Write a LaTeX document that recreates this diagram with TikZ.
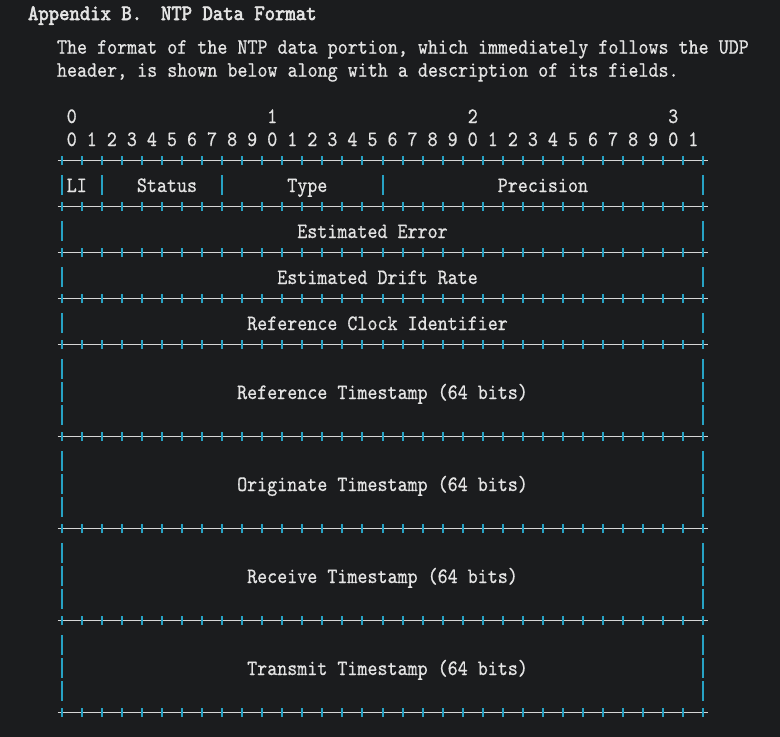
\documentclass[tikz,border=0pt]{standalone}
\usepackage{fontspec}
\newfontfamily\mono{lmmono10-regular}[Extension=.otf, FakeStretch=0.87, FakeBold=0.6]
\newfontfamily\monobold{lmmono10-regular}[Extension=.otf, FakeStretch=0.9, FakeBold=2.6]
\definecolor{bg}{HTML}{1B1C1E}
\definecolor{fg}{HTML}{E4E4E4}
\definecolor{cy}{HTML}{27A2C4}
\definecolor{dash}{HTML}{D6D6D6}
\begin{document}
\begin{tikzpicture}[x=1pt,y=-1pt,
  txt/.style={anchor=base west, inner sep=0pt, outer sep=0pt, text=fg, font=\mono\fontsize{21.95}{23}\selectfont},
  ttl/.style={txt, font=\monobold\fontsize{21.95}{23}\selectfont},
  hline/.style={draw=dash, line width=1pt},
  vbar/.style={draw=cy, line width=2pt}]
\useasboundingbox (0,0) rectangle (780,737);
\fill[bg] (0,0) rectangle (780,737);

% title and paragraph
\node[ttl] (t1) at (28,20) {Appendix B.};
\node[ttl] (t2) at (161,20) {NTP Data Format};
\node[txt] (p1) at (57,53.7) {The format of the NTP data portion, which immediately follows the UDP};
\node[txt] (p2) at (57,76.7) {header, is shown below along with a description of its fields.};

% bit numbers
\foreach \t in {0,1,2,3} {
  \node[txt] (ten\t) at ({61.7+10.025*(1+20*\t)-5},123) {\t};
}
\foreach \i in {0,...,31} {
  \pgfmathtruncatemacro\d{mod(\i,10)}
  \node[txt] (bit\i) at ({61.7+10.025*(1+2*\i)-5},146) {\d};
}

% horizontal separators with plus signs
\foreach \k in {0,2,4,6,8,12,16,20,24} {
  \draw[hline] (57.5,{160.7+23*\k}) -- (707.5,{160.7+23*\k});
  \foreach \c in {0,...,32} {
    \draw[vbar] ({61.7+20.05*\c},{160.7+23*\k-4.3}) -- ++(0,8.8);
  }
}

% pipes
\foreach \k/\cols in {1/{0,4,16,32,64},3/{0,64},5/{0,64},7/{0,64},
   9/{0,64},10/{0,64},11/{0,64},13/{0,64},14/{0,64},15/{0,64},
   17/{0,64},18/{0,64},19/{0,64},21/{0,64},22/{0,64},23/{0,64}} {
  \foreach \c in \cols {
    \draw[vbar] ({61.7+10.025*\c},{160.7+23*\k-8.7}) -- ++(0,20);
  }
}

% field labels: (column, row)
\newcommand\fieldlabel[4]{\node[txt] (#1) at ({61.7+10.025*#2-5},{160.7+23*#3+8.3}) {#4};}
\fieldlabel{li}{1}{1}{LI}
\fieldlabel{status}{8}{1}{Status}
\fieldlabel{type}{23}{1}{Type}
\fieldlabel{prec}{44}{1}{Precision}
\fieldlabel{err}{24}{3}{Estimated Error}
\fieldlabel{drift}{22}{5}{Estimated Drift Rate}
\fieldlabel{refid}{19}{7}{Reference Clock Identifier}
\fieldlabel{refts}{18}{10}{Reference Timestamp (64 bits)}
\fieldlabel{orgts}{18}{14}{Originate Timestamp (64 bits)}
\fieldlabel{rects}{19}{18}{Receive Timestamp (64 bits)}
\fieldlabel{xmtts}{19}{22}{Transmit Timestamp (64 bits)}
\end{tikzpicture}
\end{document}
